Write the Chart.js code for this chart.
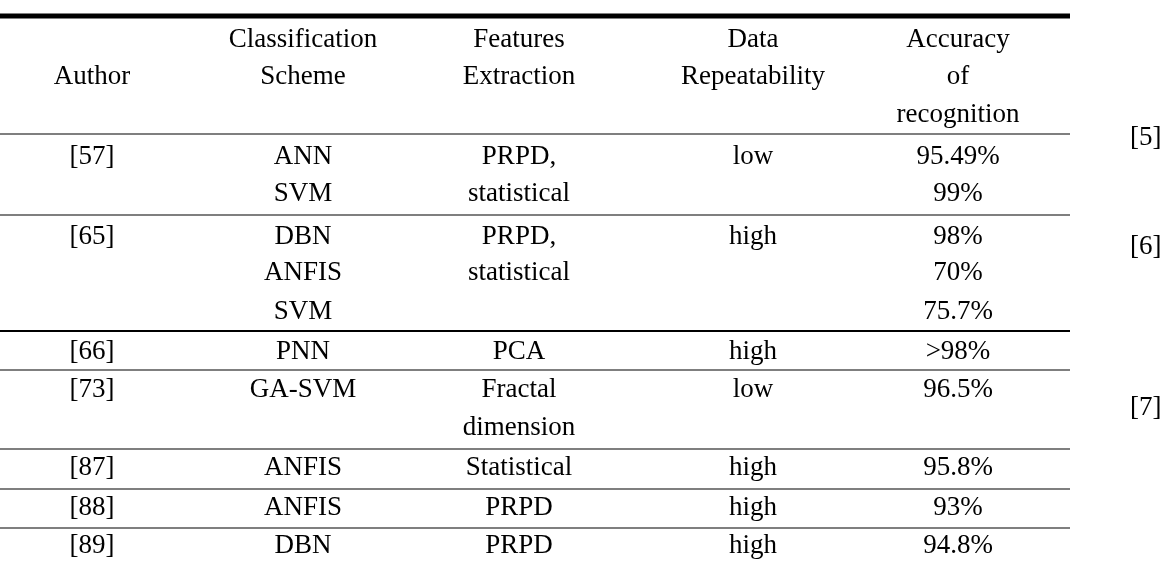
<!DOCTYPE html>
<html>
<head>
<meta charset="utf-8">
<script src="https://cdn.jsdelivr.net/npm/chart.js@4"></script>
<style>
  html, body { margin: 0; padding: 0; background: #fff; }
  #wrap { width: 1164px; height: 565px; }
</style>
</head>
<body>
<div id="wrap"><canvas id="tbl"></canvas></div>
<script>
// table content
const headers = [['', 'Author', ''], ['Classification', 'Scheme', ''], ['Features', 'Extraction', ''], ['Data', 'Repeatability', ''], ['Accuracy', 'of', 'recognition']];
const authors = [['[57]', ''], ['[65]', '', ''], ['[66]'], ['[73]', ''], ['[87]'], ['[88]'], ['[89]']];
const schemes = [['ANN', 'SVM'], ['DBN', 'ANFIS', 'SVM'], ['PNN'], ['GA-SVM', ''], ['ANFIS'], ['ANFIS'], ['DBN']];
const features = [['PRPD,', 'statistical'], ['PRPD,', 'statistical', ''], ['PCA'], ['Fractal', 'dimension'], ['Statistical'], ['PRPD'], ['PRPD']];
const repeatability = [['low', ''], ['high', '', ''], ['high'], ['low', ''], ['high'], ['high'], ['high']];
const accuracy = [['95.49%', '99%'], ['98%', '70%', '75.7%'], ['>98%'], ['96.5%', ''], ['95.8%'], ['93%'], ['94.8%']];
const sideRefs = ['[5]', '[6]', '[7]'];

// layout (pixel units on the hidden scales)
const colX = [92, 303, 519, 753, 958];
const headerY = [40, 77, 115];
const groupY = [[157, 194], [237, 273, 312], [352], [390, 428], [468], [508], [546]];
const ruleY = [134, 215, 331, 370, 449, 489, 528];
const sideY = [138, 247, 408];

const columns = [authors, schemes, features, repeatability, accuracy];

const tablePlugin = {
    id: 'tablePlugin',
    afterDraw(chart) {
        const ctx = chart.ctx;
        const xs = chart.scales.x, ys = chart.scales.y;
        ctx.save();
        ctx.fillStyle = '#000';
        ctx.strokeStyle = '#000';
        ctx.font = '27px "Liberation Serif", "DejaVu Serif", serif';
        ctx.textAlign = 'center';
        ctx.textBaseline = 'middle';

        // top thick rule
        ctx.lineWidth = 5;
        ctx.beginPath();
        ctx.moveTo(xs.getPixelForValue(0), ys.getPixelForValue(16));
        ctx.lineTo(xs.getPixelForValue(1070), ys.getPixelForValue(16));
        ctx.stroke();

        ruleY.forEach((y, i) => {
            ctx.lineWidth = i === 2 ? 2 : 1.2;
            ctx.beginPath();
            ctx.moveTo(xs.getPixelForValue(0), ys.getPixelForValue(y));
            ctx.lineTo(xs.getPixelForValue(1070), ys.getPixelForValue(y));
            ctx.stroke();
        });

        headers.forEach((lines, c) => {
            lines.forEach((t, l) => {
                if (t) ctx.fillText(t, xs.getPixelForValue(colX[c]), ys.getPixelForValue(headerY[l]));
            });
        });

        columns.forEach((col, c) => {
            col.forEach((group, g) => {
                group.forEach((t, l) => {
                    if (t) ctx.fillText(t, xs.getPixelForValue(colX[c]), ys.getPixelForValue(groupY[g][l]));
                });
            });
        });

        ctx.textAlign = 'left';
        sideRefs.forEach((t, i) => {
            ctx.fillText(t, xs.getPixelForValue(1130), ys.getPixelForValue(sideY[i]));
        });
        ctx.restore();
    }
};

new Chart(document.getElementById('tbl').getContext('2d'), {
    type: 'scatter',
    data: { datasets: [{ data: [], pointRadius: 0 }] },
    options: {
        responsive: true,
        maintainAspectRatio: false,
        animation: false,
        layout: { padding: 0 },
        plugins: { legend: { display: false }, tooltip: { enabled: false } },
        scales: {
            x: { type: 'linear', min: 0, max: 1164, display: false },
            y: { type: 'linear', min: 0, max: 565, reverse: true, display: false }
        }
    },
    plugins: [tablePlugin]
});
</script>
</body>
</html>
